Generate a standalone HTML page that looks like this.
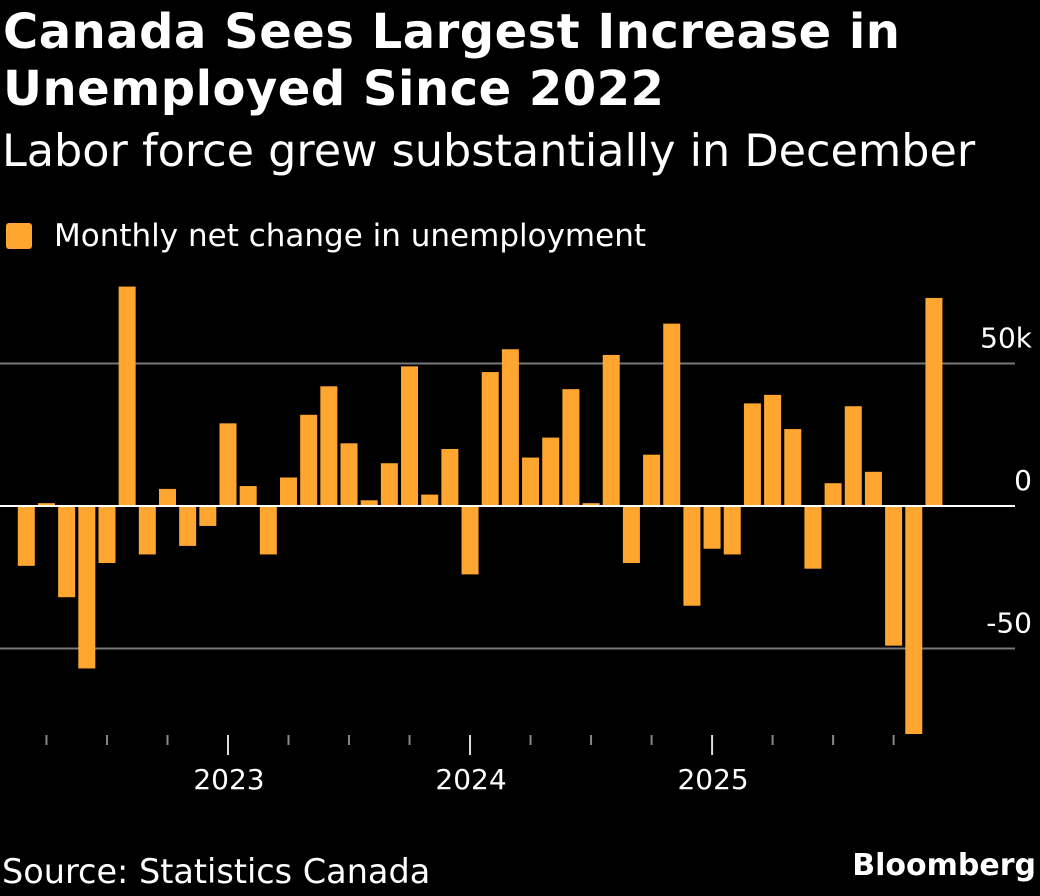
<!DOCTYPE html>
<html><head><meta charset="utf-8"><style>
html,body{margin:0;padding:0;background:#000;}
body{width:1040px;height:896px;position:relative;overflow:hidden;font-family:"DejaVu Sans",sans-serif;color:#fff;}
.t{position:absolute;left:3px;top:4px;font-size:48px;font-weight:bold;line-height:57px;letter-spacing:0.5px;white-space:nowrap;}
.s{position:absolute;left:2px;top:126px;font-size:44.5px;line-height:52px;white-space:nowrap;}
.lg{position:absolute;left:6px;top:216px;font-size:31px;line-height:40px;white-space:nowrap;}
.lg span.sw{display:inline-block;width:26px;height:26px;background:#ffa630;border-radius:3px;vertical-align:-3px;margin-right:22px;}
.src{position:absolute;left:2px;top:852px;font-size:33.5px;white-space:nowrap;}
.bb{position:absolute;right:4px;top:848px;font-size:30px;font-weight:bold;}
</style></head><body>
<div class="t">Canada Sees Largest Increase in<br>Unemployed Since 2022</div>
<div class="s">Labor force grew substantially in December</div>
<div class="lg"><span class="sw"></span>Monthly net change in unemployment</div>
<svg id="c" width="1040" height="896" style="position:absolute;left:0;top:0"></svg>
<div class="src">Source: Statistics Canada</div>
<div class="bb">Bloomberg</div>
<script>
const values=[-21,1,-32,-57,-20,77,-17,6,-14,-7,29,7,-17,10,32,42,22,2,15,49,4,20,-24,47,55,17,24,41,1,53,-20,18,64,-35,-15,-17,36,39,27,-22,8,35,12,-49,-80,73];
const yTicks=[50,0,-50];
const yTickLabels=["50k","0","-50"];
const yearLabels=["2023","2024","2025"];
const yearIdx=[10,22,34];
const NS="http://www.w3.org/2000/svg";
const svg=document.getElementById('c');
const y0=506, ppk=142.5/50;
function y(v){return y0-v*ppk;}
function x(i){return 26.3+i*20.17;}
function mk(t,a){const e=document.createElementNS(NS,t);for(const k in a)e.setAttribute(k,a[k]);svg.appendChild(e);return e;}
yTicks.forEach((v,i)=>{
  if(v!==0){const l=mk('line',{x1:0,x2:1015,y1:y(v),y2:y(v),stroke:'#777','stroke-width':2});
  
  }
  const t=mk('text',{x:1032,y:y(v)-16,'text-anchor':'end','font-size':28,fill:'#fff','font-family':'DejaVu Sans, sans-serif'});
  t.textContent=yTickLabels[i];
  
  
});
values.forEach((v,i)=>{
  const r=mk('rect',{x:x(i)-8.5,y:Math.min(y(v),y0),width:17,height:Math.abs(y(v)-y0),fill:'#ffa630'});
  
  
});
const z=mk('line',{x1:0,x2:1015,y1:y0,y2:y0,stroke:'#fff','stroke-width':2});


for(let i=1;i<values.length;i+=3){
  const maj=yearIdx.includes(i);
  const tk=mk('line',{x1:x(i),x2:x(i),y1:735,y2:maj?755:745,stroke:maj?'#ddd':'#888','stroke-width':2});
  
  
}
yearIdx.forEach((idx,i)=>{
  const t=mk('text',{x:x(idx)+1,y:789,'text-anchor':'middle','font-size':28,fill:'#fff','font-family':'DejaVu Sans, sans-serif'});
  t.textContent=yearLabels[i];
  
  
});
</script>
</body></html>
